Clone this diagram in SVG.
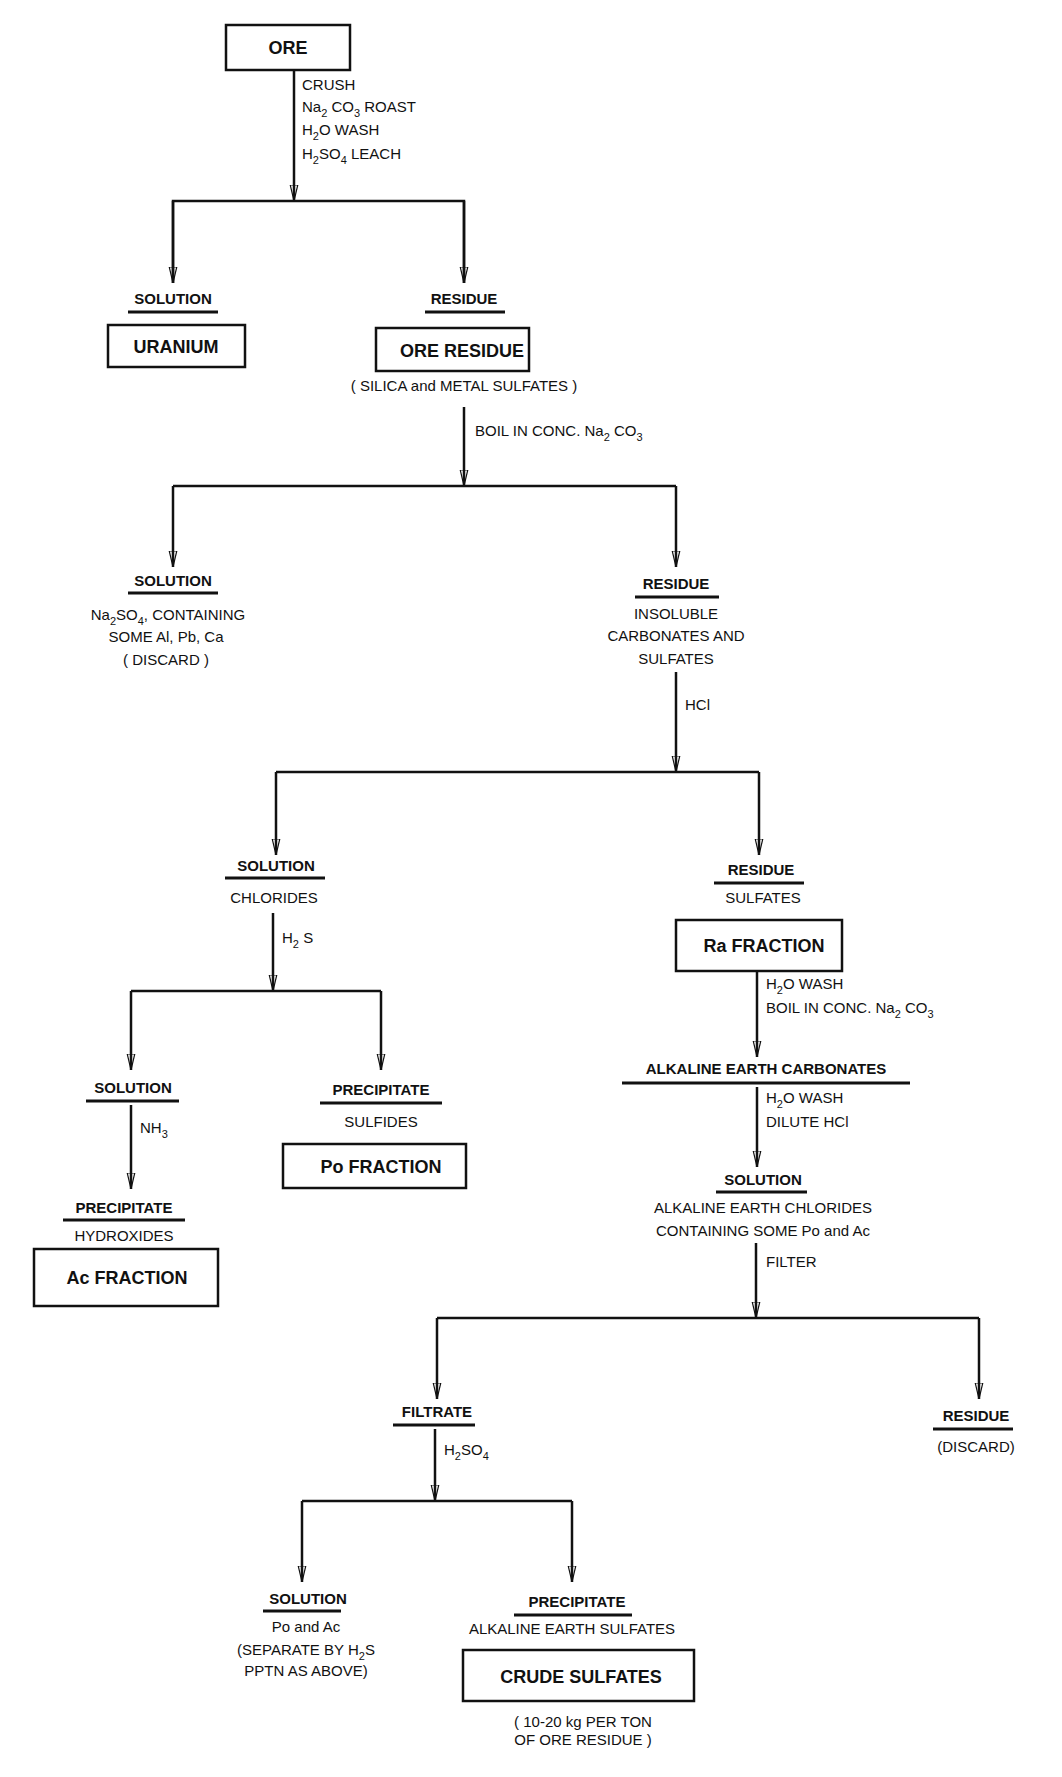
<svg xmlns="http://www.w3.org/2000/svg" width="1062" height="1777" viewBox="0 0 1062 1777">
<style>
text{font-family:"Liberation Sans",Arial,sans-serif;font-size:15px;fill:#111}
.b{font-weight:bold;font-size:15px}
.bx{font-weight:bold;font-size:18px}
.m{text-anchor:middle}
.s{font-size:11px}
rect{fill:#fff;stroke:#111;stroke-width:2.5}
line,path{stroke:#111;stroke-width:2.5;fill:none}
.u{stroke-width:3}
</style>
<defs>
<marker id="ah" markerUnits="userSpaceOnUse" markerWidth="16" markerHeight="32" refX="8" refY="30" orient="auto-start-reverse" viewBox="0 0 16 32">
<path d="M0,0 L16,0 L8,32 Z" fill="#111" stroke="none" transform="rotate(0)"/>
</marker>
<marker id="a" markerUnits="userSpaceOnUse" markerWidth="16" markerHeight="34" refX="34" refY="8" orient="auto" viewBox="0 0 34 16">
<path d="M0,0 L34,8 L0,16 Z" fill="#111" stroke="none"/>
</marker>
</defs>
<g id="connectors">
<line x1="294" y1="70" x2="294" y2="201" marker-end="url(#a)"/>
<path d="M173,283 V201 H464 V283" />
<line x1="173" y1="201" x2="173" y2="283" marker-end="url(#a)"/>
<line x1="464" y1="201" x2="464" y2="283" marker-end="url(#a)"/>
<line x1="464" y1="407" x2="464" y2="486" marker-end="url(#a)"/>
<path d="M173,486 H676"/>
<line x1="173" y1="486" x2="173" y2="567" marker-end="url(#a)"/>
<line x1="676" y1="486" x2="676" y2="567" marker-end="url(#a)"/>
<line x1="676" y1="672" x2="676" y2="772" marker-end="url(#a)"/>
<path d="M276,772 H759"/>
<line x1="276" y1="772" x2="276" y2="855" marker-end="url(#a)"/>
<line x1="759" y1="772" x2="759" y2="855" marker-end="url(#a)"/>
<line x1="273" y1="913" x2="273" y2="991" marker-end="url(#a)"/>
<path d="M131,991 H381"/>
<line x1="131" y1="991" x2="131" y2="1070" marker-end="url(#a)"/>
<line x1="381" y1="991" x2="381" y2="1070" marker-end="url(#a)"/>
<line x1="131" y1="1105" x2="131" y2="1189" marker-end="url(#a)"/>
<line x1="757" y1="971" x2="757" y2="1057" marker-end="url(#a)"/>
<line x1="757" y1="1087" x2="757" y2="1167" marker-end="url(#a)"/>
<line x1="756" y1="1243" x2="756" y2="1318" marker-end="url(#a)"/>
<path d="M437,1318 H979"/>
<line x1="437" y1="1318" x2="437" y2="1399" marker-end="url(#a)"/>
<line x1="979" y1="1318" x2="979" y2="1399" marker-end="url(#a)"/>
<line x1="435" y1="1429" x2="435" y2="1501" marker-end="url(#a)"/>
<path d="M302,1501 H572"/>
<line x1="302" y1="1501" x2="302" y2="1582" marker-end="url(#a)"/>
<line x1="572" y1="1501" x2="572" y2="1582" marker-end="url(#a)"/>
</g>
<g id="ore"><rect x="226" y="25" width="124" height="45"/><text class="bx m" x="288" y="54">ORE</text></g>
<g id="step1">
<text x="302" y="90">CRUSH</text>
<text x="302" y="112">Na<tspan class="s" dy="5">2</tspan><tspan dy="-5"> CO</tspan><tspan class="s" dy="5">3</tspan><tspan dy="-5"> ROAST</tspan></text>
<text x="302" y="135">H<tspan class="s" dy="5">2</tspan><tspan dy="-5">O WASH</tspan></text>
<text x="302" y="159">H<tspan class="s" dy="5">2</tspan><tspan dy="-5">SO</tspan><tspan class="s" dy="5">4</tspan><tspan dy="-5"> LEACH</tspan></text>
</g>
<g id="sol1"><text class="b m" x="173" y="304">SOLUTION</text><line class="u" x1="128" y1="312" x2="218" y2="312"/>
<rect x="108" y="325" width="137" height="42"/><text class="bx m" x="176" y="353">URANIUM</text></g>
<g id="res1"><text class="b m" x="464" y="304">RESIDUE</text><line class="u" x1="425" y1="312" x2="505" y2="312"/>
<rect x="376" y="328" width="153" height="43"/><text class="bx m" x="462" y="357">ORE RESIDUE</text>
<text class="m" x="464" y="391">( SILICA and METAL SULFATES )</text></g>
<g id="step2"><text x="475" y="436">BOIL IN CONC. Na<tspan class="s" dy="5">2</tspan><tspan dy="-5"> CO</tspan><tspan class="s" dy="5">3</tspan></text></g>
<g id="sol2"><text class="b m" x="173" y="586">SOLUTION</text><line class="u" x1="128" y1="593" x2="218" y2="593"/>
<text class="m" x="168" y="620">Na<tspan class="s" dy="5">2</tspan><tspan dy="-5">SO</tspan><tspan class="s" dy="5">4</tspan><tspan dy="-5">, CONTAINING</tspan></text>
<text class="m" x="166" y="642">SOME Al, Pb, Ca</text>
<text class="m" x="166" y="665">( DISCARD )</text></g>
<g id="res2"><text class="b m" x="676" y="589">RESIDUE</text><line class="u" x1="635" y1="597" x2="719" y2="597"/>
<text class="m" x="676" y="619">INSOLUBLE</text><text class="m" x="676" y="641">CARBONATES AND</text><text class="m" x="676" y="664">SULFATES</text></g>
<g id="step3"><text x="685" y="710">HCl</text></g>
<g id="sol3"><text class="b m" x="276" y="871">SOLUTION</text><line class="u" x1="225" y1="878" x2="325" y2="878"/>
<text class="m" x="274" y="903">CHLORIDES</text></g>
<g id="step4"><text x="282" y="943">H<tspan class="s" dy="5">2</tspan><tspan dy="-5"> S</tspan></text></g>
<g id="sol4"><text class="b m" x="133" y="1093">SOLUTION</text><line class="u" x1="86" y1="1101" x2="179" y2="1101"/></g>
<g id="step5"><text x="140" y="1133">NH<tspan class="s" dy="5">3</tspan></text></g>
<g id="ppt1"><text class="b m" x="124" y="1213">PRECIPITATE</text><line class="u" x1="63" y1="1220" x2="185" y2="1220"/>
<text class="m" x="124" y="1241">HYDROXIDES</text>
<rect x="34" y="1249" width="184" height="57"/><text class="bx m" x="127" y="1284">Ac FRACTION</text></g>
<g id="ppt2"><text class="b m" x="381" y="1095">PRECIPITATE</text><line class="u" x1="320" y1="1103" x2="442" y2="1103"/>
<text class="m" x="381" y="1127">SULFIDES</text>
<rect x="283" y="1144" width="183" height="44"/><text class="bx m" x="381" y="1173">Po FRACTION</text></g>
<g id="res3"><text class="b m" x="761" y="875">RESIDUE</text><line class="u" x1="714" y1="883" x2="804" y2="883"/>
<text class="m" x="763" y="903">SULFATES</text>
<rect x="676" y="920" width="166" height="51"/><text class="bx m" x="764" y="952">Ra FRACTION</text></g>
<g id="step6"><text x="766" y="989">H<tspan class="s" dy="5">2</tspan><tspan dy="-5">O WASH</tspan></text>
<text x="766" y="1013">BOIL IN CONC. Na<tspan class="s" dy="5">2</tspan><tspan dy="-5"> CO</tspan><tspan class="s" dy="5">3</tspan></text></g>
<g id="aec"><text class="b m" x="766" y="1074">ALKALINE EARTH CARBONATES</text><line class="u" x1="622" y1="1083" x2="910" y2="1083"/></g>
<g id="step7"><text x="766" y="1103">H<tspan class="s" dy="5">2</tspan><tspan dy="-5">O WASH</tspan></text><text x="766" y="1127">DILUTE HCl</text></g>
<g id="sol5"><text class="b m" x="763" y="1185">SOLUTION</text><line class="u" x1="716" y1="1192" x2="807" y2="1192"/>
<text class="m" x="763" y="1213">ALKALINE EARTH CHLORIDES</text><text class="m" x="763" y="1236">CONTAINING SOME Po and Ac</text></g>
<g id="step8"><text x="766" y="1267">FILTER</text></g>
<g id="filtrate"><text class="b m" x="437" y="1417">FILTRATE</text><line class="u" x1="393" y1="1425" x2="475" y2="1425"/></g>
<g id="step9"><text x="444" y="1455">H<tspan class="s" dy="5">2</tspan><tspan dy="-5">SO</tspan><tspan class="s" dy="5">4</tspan></text></g>
<g id="res4"><text class="b m" x="976" y="1421">RESIDUE</text><line class="u" x1="933" y1="1429" x2="1013" y2="1429"/>
<text class="m" x="976" y="1452">(DISCARD)</text></g>
<g id="sol6"><text class="b m" x="308" y="1604">SOLUTION</text><line class="u" x1="263" y1="1611" x2="341" y2="1611"/>
<text class="m" x="306" y="1632">Po and Ac</text>
<text class="m" x="306" y="1655">(SEPARATE BY H<tspan class="s" dy="5">2</tspan><tspan dy="-5">S</tspan></text>
<text class="m" x="306" y="1676">PPTN AS ABOVE)</text></g>
<g id="ppt3"><text class="b m" x="577" y="1607">PRECIPITATE</text><line class="u" x1="514" y1="1615" x2="632" y2="1615"/>
<text class="m" x="572" y="1634">ALKALINE EARTH SULFATES</text>
<rect x="463" y="1650" width="231" height="51"/><text class="bx m" x="581" y="1683">CRUDE SULFATES</text>
<text class="m" x="583" y="1727">( 10-20 kg PER TON</text><text class="m" x="583" y="1745">OF ORE RESIDUE )</text></g>
</svg>
